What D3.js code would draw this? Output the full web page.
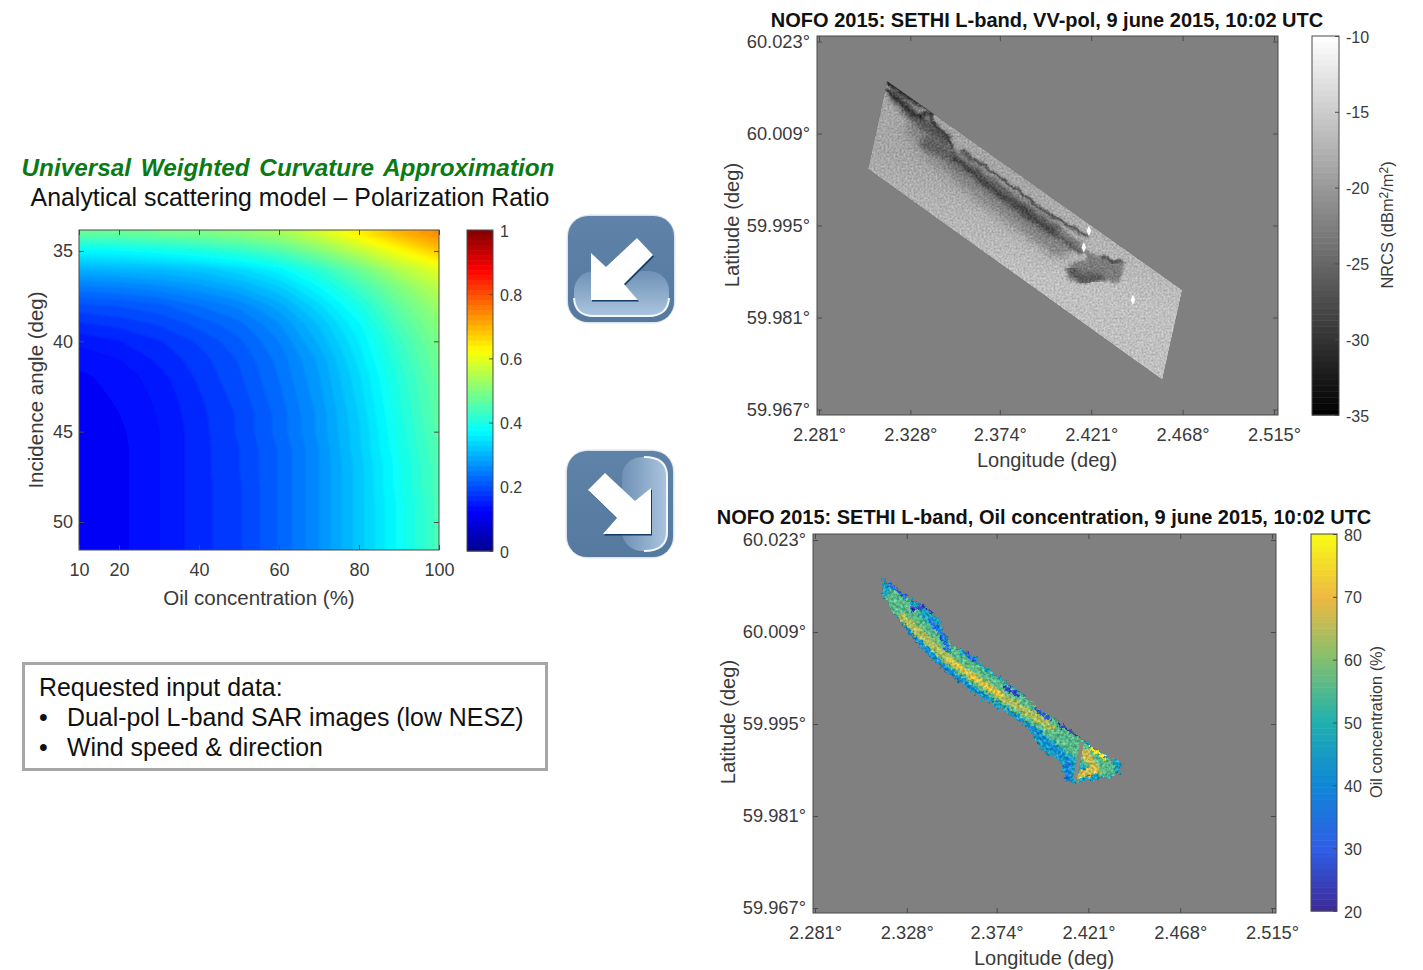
<!DOCTYPE html>
<html><head><meta charset="utf-8">
<script src="https://cdnjs.cloudflare.com/ajax/libs/d3/7.8.5/d3.min.js"></script>
<style>
html,body{margin:0;padding:0;background:#fff;overflow:hidden}
svg{display:block}
text{font-family:"Liberation Sans",Arial,sans-serif}
.tick text{fill:#3a3a3a}
.lab{fill:#3a3a3a}
</style></head><body><svg id="c" width="1423" height="970"></svg>
<script>
// ---------- data ----------
const heatConc=[10,20,30,40,50,60,70,80,90,100];
const heatAngle=[34,35,36,37,38,39,40,41,42,43,44,45,46,47,48,49,50,51,52];
const heatRows=[
[.47,.475,.485,.495,.51,.535,.58,.64,.70,.74],
[.37,.375,.385,.40,.42,.45,.50,.56,.62,.68],
[.30,.305,.31,.32,.34,.37,.42,.48,.55,.60],
[.245,.25,.26,.275,.295,.325,.375,.435,.50,.56],
[.20,.205,.215,.235,.255,.29,.34,.40,.47,.53],
[.17,.178,.19,.21,.23,.265,.315,.375,.45,.51],
[.145,.155,.17,.19,.215,.25,.30,.36,.43,.495],
[.13,.14,.16,.18,.205,.24,.285,.35,.42,.485],
[.122,.13,.15,.175,.20,.235,.28,.34,.41,.475],
[.12,.127,.145,.17,.195,.23,.275,.335,.405,.47],
[.12,.125,.142,.167,.19,.225,.27,.33,.40,.465],
[.12,.122,.14,.165,.19,.225,.27,.325,.395,.46],
[.12,.12,.14,.165,.187,.22,.265,.325,.39,.455],
[.12,.12,.14,.165,.187,.22,.265,.32,.385,.45],
[.12,.12,.14,.165,.185,.22,.265,.32,.385,.45],
[.12,.12,.14,.165,.185,.22,.265,.32,.38,.445],
[.12,.12,.14,.165,.185,.22,.265,.32,.38,.445],
[.12,.12,.14,.165,.185,.22,.265,.32,.38,.445],
[.12,.12,.14,.165,.185,.22,.265,.32,.38,.445]];
const heatXTicks=[10,20,40,60,80,100];
const heatYTicks=[35,40,45,50];
const heatCbTicks=[0,.2,.4,.6,.8,1];
const lonTicks=[2.281,2.328,2.374,2.421,2.468,2.515];
const latTicks=[59.967,59.981,59.995,60.009,60.023];
const nrcsTicks=[-35,-30,-25,-20,-15,-10];
const oilTicks=[20,30,40,50,60,70,80];
// SAR swath corners (lon,lat)
const swath=[[2.3160,60.0170],[2.3062,60.0036],[2.4576,59.9715],[2.4679,59.9852]];
// slick structure in the VV image: [lon,lat] with grey level, stroke and softness
const slickHalo=[[2.3314,60.0098],[2.3432,60.0060],[2.3653,60.0004],[2.3879,59.9954],[2.4049,59.9917]];
const slickLines=[
 {s:"#555555",w:13,f:"b3",p:[[2.3201,60.0149],[2.3303,60.0118],[2.3458,60.0080]]},
 {s:"#5e5e5e",w:13,f:"b3",p:[[2.3365,60.0076],[2.3499,60.0054],[2.3602,60.0033],[2.3725,60.0004],[2.3843,59.9978],[2.4013,59.9943]]},
 {s:"#2a2a2a",w:5,f:"b05",p:[[2.3165,60.0168],[2.3263,60.0148],[2.3396,60.0123]]},
 {s:"#303030",w:4,f:"b05",p:[[2.3160,60.0156],[2.3267,60.0126],[2.3345,60.0114]]},
 {s:"#333333",w:3,f:"b05",p:[[2.3288,60.0118],[2.3381,60.0121],[2.3396,60.0106],[2.3468,60.0085],[2.3499,60.0068]]},
 {s:"#3c3c3c",w:4,f:"b1",p:[[2.3499,60.0054],[2.3602,60.0030],[2.3725,60.0001],[2.3843,59.9978],[2.4013,59.9939]]},
 {s:"#383838",w:2.4,f:"b05",p:[[2.3550,60.0062],[2.3653,60.0042],[2.3807,60.0009],[2.3982,59.9969],[2.4188,59.9933]]},
 {s:"#505050",w:2.2,f:"b05",p:[[2.3776,59.9989],[2.3910,59.9958],[2.4152,59.9910]]},
 {s:"#585858",w:10,f:"b3",p:[[2.4100,59.9882],[2.4177,59.9867],[2.4254,59.9870]]},
 {s:"#444444",w:3,f:"b05",p:[[2.4270,59.9902],[2.4321,59.9893],[2.4373,59.9895]]}];
const slickTail=[[2.3725,60.0004],[2.3879,59.9974],[2.4013,59.9943],[2.4167,59.9913]];
const slickBlob=[[2.4167,59.9917],[2.4290,59.9898],[2.4373,59.9895],[2.4373,59.9878],[2.4342,59.9864],[2.4254,59.9867],[2.4152,59.9861],[2.4100,59.9872],[2.4100,59.9893],[2.4188,59.9898]];
const shipSpots=[[2.4198,59.9942],[2.4172,59.9917],[2.4424,59.9837]];
// oil mask outline and streaks: [lon,lat] and concentration
const oilOutline=[[2.3158,60.0172],[2.3261,60.0149],[2.3399,60.0124],[2.3450,60.0104],[2.3517,60.0067],[2.3619,60.0055],[2.3721,60.0028],[2.3860,59.9999],[2.3962,59.9972],[2.4064,59.9952],[2.4167,59.9930],[2.4233,59.9915],[2.4320,59.9898],[2.4382,59.9892],[2.4372,59.9875],[2.4305,59.9868],[2.4151,59.9860],[2.4090,59.9865],[2.4064,59.9895],[2.3972,59.9909],[2.3895,59.9946],[2.3773,59.9970],[2.3639,59.9993],[2.3537,60.0016],[2.3440,60.0041],[2.3348,60.0067],[2.3281,60.0092],[2.3209,60.0122],[2.3153,60.0149]];
const oilBase=46;
const oilStreaks=[
 {v:42,w:7,p:[[2.3209,60.0120],[2.3322,60.0078],[2.3476,60.0035],[2.3629,60.0005],[2.3783,59.9982],[2.3962,59.9933],[2.4064,59.9903]]},
 {v:56,w:19,p:[[2.3220,60.0139],[2.3373,60.0090],[2.3527,60.0047],[2.3680,60.0014],[2.3860,59.9979],[2.4039,59.9941],[2.4192,59.9903],[2.4295,59.9883]]},
 {v:64,w:8,p:[[2.3261,60.0113],[2.3383,60.0078],[2.3501,60.0047],[2.3619,60.0022],[2.3757,59.9994],[2.3895,59.9968],[2.4013,59.9946]]},
 {v:72,w:3,p:[[2.3501,60.0047],[2.3619,60.0022],[2.3757,59.9994]]},
 {v:47,w:2.5,p:[[2.3348,60.0116],[2.3552,60.0063],[2.3757,60.0020],[2.3962,59.9979],[2.4116,59.9946]]},
 {v:67,w:8,p:[[2.4192,59.9907],[2.4244,59.9880],[2.4167,59.9872]]},
 {v:76,w:3.5,p:[[2.4218,59.9914],[2.4295,59.9898]]},
 {v:32,w:3,p:[[2.3174,60.0169],[2.3271,60.0143]]},
 {v:24,w:3.5,p:[[2.3307,60.0124],[2.3373,60.0130],[2.3399,60.0121]]},
 {v:34,w:4,p:[[2.3399,60.0108],[2.3460,60.0085],[2.3491,60.0063]]},
 {v:30,w:3,p:[[2.3578,60.0058],[2.3629,60.0047]]},
 {v:26,w:4,p:[[2.3783,60.0005],[2.3849,59.9994]]},
 {v:28,w:3.5,p:[[2.3936,59.9972],[2.4003,59.9959]]},
 {v:24,w:5,p:[[2.4064,59.9949],[2.4167,59.9933]]},
 {v:38,w:6,p:[[2.4100,59.9895],[2.4105,59.9865]]}];
const oilGap=[[2.4177,59.9923],[2.4141,59.9865]];

// ---------- helpers ----------
const svg=d3.select("#c");
const defs=svg.append("defs");
const jet=d3.scaleLinear().domain([0,.11,.125,.375,.625,.875,1]).range(["#00008f","#0000f0","#0000ff","#00ffff","#ffff00","#ff0000","#800000"]).clamp(true);
const grey=d3.scaleLinear().domain([-35,-10]).range(["#000","#fff"]);
const parula=d3.scaleLinear().domain([20,30,40,50,60,70,80]).range(["#3d2a96","#2f5ee6","#0f86d6","#1fb0b0","#82bf6e","#eeb942","#f9fb15"]);
const tickCol="#4a4a4a";
function style(a,fs){a.select(".domain").remove();a.selectAll("line").attr("stroke",tickCol);if(fs)a.selectAll("text").attr("font-size",fs);return a;}
function boxAxes(g,x,y,box,xt,yt,xfmt,yfmt,fs,xpad,ypad){
  const {l,t,r,b}=box;
  style(g.append("g").attr("transform",`translate(0,${b})`).call(d3.axisBottom(x).tickValues(xt).tickSizeInner(-5).tickSizeOuter(0).tickPadding(xpad).tickFormat(xfmt)),fs);
  style(g.append("g").attr("transform",`translate(${l},0)`).call(d3.axisLeft(y).tickValues(yt).tickSizeInner(-5).tickSizeOuter(0).tickPadding(ypad).tickFormat(yfmt)),fs);
  style(g.append("g").attr("transform",`translate(0,${t})`).call(d3.axisTop(x).tickValues(xt).tickSizeInner(-5).tickSizeOuter(0).tickFormat("")));
  style(g.append("g").attr("transform",`translate(${r},0)`).call(d3.axisRight(y).tickValues(yt).tickSizeInner(-5).tickSizeOuter(0).tickFormat("")));
  g.append("rect").attr("x",l).attr("y",t).attr("width",r-l).attr("height",b-t).attr("fill","none").attr("stroke",tickCol);
}
function vlabel(x,y,t,fs){return svg.append("text").attr("class","lab").attr("transform",`translate(${x},${y}) rotate(-90)`).attr("text-anchor","middle").attr("font-size",fs).text(t);}
function hlabel(x,y,t,fs){return svg.append("text").attr("class","lab").attr("x",x).attr("y",y).attr("text-anchor","middle").attr("font-size",fs).text(t);}
function colorbar(x0,x1,y0,y1,dom,color,tvals,fmt,n,fs){
  const y=d3.scaleLinear().domain(dom).range([y1,y0]);
  const g=svg.append("g");
  const lv=d3.range(n).map(i=>dom[0]+(dom[1]-dom[0])*i/n);
  const st=(dom[1]-dom[0])/n;
  g.selectAll("rect").data(lv).join("rect").attr("x",x0).attr("width",x1-x0)
   .attr("y",d=>y(d+st)).attr("height",d=>y(d)-y(d+st)+.5).attr("fill",d=>color(d+st/2));
  g.append("rect").attr("x",x0).attr("y",y0).attr("width",x1-x0).attr("height",y1-y0).attr("fill","none").attr("stroke",tickCol);
  style(g.append("g").attr("transform",`translate(${x1},0)`).call(d3.axisRight(y).tickValues(tvals).tickSizeInner(-4).tickSizeOuter(0).tickPadding(7).tickFormat(fmt)),fs);
  g.selectAll(".tick text").attr("dy",".38em");
}
// filters
["b05","b1","b3","b7"].forEach((id,i)=>defs.append("filter").attr("id",id).attr("x","-20%").attr("y","-20%").attr("width","140%").attr("height","140%").append("feGaussianBlur").attr("stdDeviation",[.9,1.4,2.4,5.5][i]));
const fs=defs.append("filter").attr("id","speckle").attr("x",0).attr("y",0).attr("width",1).attr("height",1).attr("color-interpolation-filters","sRGB");
fs.append("feTurbulence").attr("type","fractalNoise").attr("baseFrequency",.5).attr("numOctaves",2).attr("seed",4).attr("result","n");
fs.append("feColorMatrix").attr("in","n").attr("type","matrix").attr("values","1 0 0 0 0 1 0 0 0 0 1 0 0 0 0 0 0 0 0 1").attr("result","g");
fs.append("feComposite").attr("in","SourceGraphic").attr("in2","g").attr("operator","arithmetic").attr("k1",0).attr("k2",1).attr("k3",.3).attr("k4",-.15).attr("result","m");
fs.append("feGaussianBlur").attr("in","m").attr("stdDeviation",.6);
const fd=defs.append("filter").attr("id","wobble").attr("x","-5%").attr("y","-5%").attr("width","110%").attr("height","110%").attr("color-interpolation-filters","sRGB");
fd.append("feTurbulence").attr("type","fractalNoise").attr("baseFrequency",.09).attr("numOctaves",3).attr("seed",7).attr("result","n");
fd.append("feDisplacementMap").attr("in","SourceGraphic").attr("in2","n").attr("scale",6).attr("xChannelSelector","R").attr("yChannelSelector","G");
const fr=defs.append("filter").attr("id","rough").attr("x","-5%").attr("y","-5%").attr("width","110%").attr("height","110%").attr("color-interpolation-filters","sRGB");
fr.append("feTurbulence").attr("type","fractalNoise").attr("baseFrequency",.3).attr("numOctaves",3).attr("seed",9).attr("result","n");
fr.append("feDisplacementMap").attr("in","SourceGraphic").attr("in2","n").attr("scale",9).attr("xChannelSelector","R").attr("yChannelSelector","G").attr("result","d");
fr.append("feGaussianBlur").attr("in","d").attr("stdDeviation",.6).attr("result","b");
fr.append("feTurbulence").attr("type","fractalNoise").attr("baseFrequency",.35).attr("numOctaves",2).attr("seed",21).attr("result","n2");
fr.append("feColorMatrix").attr("in","n2").attr("type","matrix").attr("values","1 0 0 0 0 1 0 0 0 0 1 0 0 0 0 0 0 0 0 1").attr("result","g2");
fr.append("feComposite").attr("in","b").attr("in2","g2").attr("operator","arithmetic").attr("k1",0).attr("k2",1).attr("k3",.5).attr("k4",-.25).attr("result","m2");
fr.append("feComposite").attr("in","m2").attr("in2","b").attr("operator","in");

// ---------- heat map panel ----------
const hx=d3.scaleLinear().domain([10,100]).range([79,439]);
const hy=d3.scaleLinear().domain([35,50]).range([251,522]);
const hBox={l:79,t:230,r:439,b:550};
defs.append("clipPath").attr("id","hclip").append("rect").attr("x",hBox.l).attr("y",hBox.t).attr("width",hBox.r-hBox.l).attr("height",hBox.b-hBox.t);
const conts=d3.contours().size([heatConc.length,heatAngle.length]).thresholds(d3.range(0,64).map(k=>k/64))(heatRows.flat());
const hPath=d3.geoPath(d3.geoTransform({point(gx,gy){
  this.stream.point(hx(heatConc[0]+(gx-.5)*(heatConc[1]-heatConc[0])),hy(heatAngle[0]+(gy-.5)*(heatAngle[1]-heatAngle[0])));}}));
const hg=svg.append("g").attr("clip-path","url(#hclip)").append("g").attr("filter","url(#b05)");
hg.selectAll("path").data(conts).join("path").attr("d",hPath).attr("fill",d=>jet(d.value+.5/64)).attr("stroke",d=>jet(d.value+.5/64)).attr("stroke-width",.3);
boxAxes(svg.append("g"),hx,hy,hBox,heatXTicks,heatYTicks,d=>d,d=>d,18,13,6);
hlabel(259,605,"Oil concentration (%)",20.5);
vlabel(43,390,"Incidence angle (deg)",20.5);
colorbar(467,493,230,551,[0,1],jet,heatCbTicks,d=>d,64,16);

// titles on the left
svg.append("text").attr("x",288).attr("y",176).attr("text-anchor","middle").attr("font-size",24.3).attr("font-weight","bold").attr("font-style","italic").attr("fill","#0b7a14").attr("word-spacing",3).text("Universal Weighted Curvature Approximation");
svg.append("text").attr("x",290).attr("y",206).attr("text-anchor","middle").attr("font-size",24.9).attr("fill","#111").text("Analytical scattering model – Polarization Ratio");

// text box
svg.append("rect").attr("x",23.5).attr("y",663.5).attr("width",523).attr("height",106).attr("fill","#fff").attr("stroke","#a6a6a6").attr("stroke-width",3);
const boxT=svg.append("g").attr("font-size",24.9).attr("fill","#111");
boxT.append("text").attr("x",39).attr("y",696).text("Requested input data:");
boxT.append("text").attr("x",39).attr("y",726).text("•");
boxT.append("text").attr("x",67).attr("y",726).text("Dual-pol L-band SAR images (low NESZ)");
boxT.append("text").attr("x",39).attr("y",756).text("•");
boxT.append("text").attr("x",67).attr("y",756).text("Wind speed & direction");

// arrow buttons
const gBtn=defs.append("linearGradient").attr("id","btn").attr("x1",0).attr("x2",0).attr("y1",0).attr("y2",1);
gBtn.append("stop").attr("offset",0).attr("stop-color","#5f83a8");gBtn.append("stop").attr("offset",1).attr("stop-color","#55799f");
const gG1=defs.append("linearGradient").attr("id","gl1").attr("x1",0).attr("x2",0).attr("y1",0).attr("y2",1);
gG1.append("stop").attr("offset",0).attr("stop-color","#6f91b5");gG1.append("stop").attr("offset",1).attr("stop-color","#acc6e0");
const gG2=defs.append("linearGradient").attr("id","gl2").attr("x1",0).attr("x2",1).attr("y1",0).attr("y2",0);
gG2.append("stop").attr("offset",0).attr("stop-color","#6f91b5");gG2.append("stop").attr("offset",1).attr("stop-color","#acc6e0");
function button(x,y,glass,arrow,inner){
  const g=svg.append("g");
  g.append("rect").attr("x",x-1.5).attr("y",y-1.5).attr("width",109).attr("height",109).attr("rx",23).attr("fill","#dde3ea");
  g.append("rect").attr("x",x).attr("y",y).attr("width",106).attr("height",106).attr("rx",20).attr("fill","url(#btn)");
  g.append("rect").attr("x",glass[0]).attr("y",glass[1]).attr("width",glass[2]).attr("height",glass[3]).attr("rx",20).attr("fill",`url(#${glass[4]})`);
  g.append("path").attr("d",inner).attr("fill","none").attr("stroke","#f2f7fc").attr("stroke-width",2);
  g.append("polygon").attr("points",arrow.map(p=>p.join(",")).join(" ")).attr("fill","#123a66").attr("transform","translate(1,1.5)");
  g.append("polygon").attr("points",arrow.map(p=>p.join(",")).join(" ")).attr("fill","#fff");
}
button(568,216,[574,271,95,46,"gl1"],[[637,238],[653,255],[624,284],[638,300],[591,300],[591,253],[606,267]],"M574,298 Q575,316 594,316 L648,316 Q668,316 669,298");
button(567,451,[622,457,46,94,"gl2"],[[605,473],[588,490],[617,518],[603,534],[651,534],[651,488],[635,501]],"M644,457 Q667,457 667,476 L667,532 Q667,551 644,551");

// ---------- image panels ----------
function panel(o){
  const lon=d3.scaleLinear().domain([lonTicks[0],lonTicks[5]]).range(o.lonR);
  const lat=d3.scaleLinear().domain([latTicks[0],latTicks[4]]).range(o.latR);
  const line=d3.line().x(d=>lon(d[0])).y(d=>lat(d[1]));
  svg.append("rect").attr("x",o.box.l).attr("y",o.box.t).attr("width",o.box.r-o.box.l).attr("height",o.box.b-o.box.t).attr("fill","#808080");
  o.draw(svg.append("g"),lon,lat,line);
  const fmt=d=>d.toFixed(3)+"°";
  boxAxes(svg.append("g"),lon,lat,o.box,lonTicks,latTicks,fmt,fmt,18.3,13,7);
  hlabel(o.cx,o.titleY,o.title,20).attr("font-weight","bold").attr("class",null).attr("fill","#111");
  hlabel(o.cx,o.xlabY,"Longitude (deg)",20);
  vlabel(o.ylabX,o.ylabY,"Latitude (deg)",20.2);
}

panel({box:{l:817,t:36,r:1278,b:415},lonR:[819,1274],latR:[409.5,41.5],cx:1047,titleY:27,xlabY:467,ylabX:739,ylabY:225,
 title:"NOFO 2015: SETHI L-band, VV-pol, 9 june 2015, 10:02 UTC",
 draw(g,lon,lat,line){
  const poly=d3.line().x(d=>lon(d[0])).y(d=>lat(d[1])).curve(d3.curveLinearClosed);
  const mid=(a,b)=>[(lon(a[0])+lon(b[0]))/2,(lat(a[1])+lat(b[1]))/2];
  const m1=mid(swath[0],swath[3]),m2=mid(swath[1],swath[2]);
  const gr=defs.append("linearGradient").attr("id","swg").attr("gradientUnits","userSpaceOnUse").attr("x1",m1[0]).attr("y1",m1[1]).attr("x2",m2[0]).attr("y2",m2[1]);
  gr.append("stop").attr("offset",0).attr("stop-color","#a6a6a6");gr.append("stop").attr("offset",.5).attr("stop-color","#b4b4b4");gr.append("stop").attr("offset",1).attr("stop-color","#c0c0c0");
  defs.append("clipPath").attr("id","swc").append("path").attr("d",poly(swath));
  const c=g.append("g").attr("clip-path","url(#swc)");
  const f=c.append("g").attr("filter","url(#speckle)");
  f.append("path").attr("d",poly(swath)).attr("fill","url(#swg)");
  const s=f.append("g").attr("filter","url(#wobble)");
  s.append("path").attr("d",line(slickHalo)).attr("fill","none").attr("stroke","#828282").attr("stroke-width",22).attr("stroke-linecap","round").attr("filter","url(#b7)");
  s.append("path").attr("d",line(slickTail)).attr("fill","none").attr("stroke","#767676").attr("stroke-width",11).attr("filter","url(#b3)");
  s.append("path").attr("d",poly(slickBlob)).attr("fill","#7c7c7c").attr("filter","url(#b1)");
  s.selectAll(".ln").data(slickLines).join("path").attr("class","ln").attr("d",d=>line(d.p)).attr("fill","none")
   .attr("stroke",d=>d.s).attr("stroke-width",d=>d.w).attr("stroke-linecap","round").attr("filter",d=>`url(#${d.f})`);
  g.selectAll(".spot").data(shipSpots).join("path").attr("class","spot")
   .attr("transform",d=>`translate(${lon(d[0])},${lat(d[1])}) scale(.8,1.1)`)
   .attr("d",d3.symbol(d3.symbolDiamond,26)).attr("fill","#fff");
 }});
colorbar(1312,1339,36,415,[-35,-10],grey,nrcsTicks,d=>d,64,16);
{const t=svg.append("text").attr("class","lab").attr("transform","translate(1393,225) rotate(-90)").attr("text-anchor","middle").attr("font-size",16.4);
 t.append("tspan").text("NRCS (dBm");t.append("tspan").attr("dy",-5).attr("font-size",12).text("2");
 t.append("tspan").attr("dy",5).text("/m");t.append("tspan").attr("dy",-5).attr("font-size",12).text("2");t.append("tspan").attr("dy",5).text(")");}

panel({box:{l:813,t:534,r:1276,b:913},lonR:[815,1272],latR:[908,540],cx:1044,titleY:524,xlabY:965,ylabX:735,ylabY:722,
 title:"NOFO 2015: SETHI L-band, Oil concentration, 9 june 2015, 10:02 UTC",
 draw(g,lon,lat,line){
  const poly=d3.line().x(d=>lon(d[0])).y(d=>lat(d[1])).curve(d3.curveLinearClosed);
  defs.append("clipPath").attr("id","oilc").append("path").attr("d",poly(oilOutline));
  const f=g.append("g").attr("filter","url(#rough)");
  const c=f.append("g").attr("clip-path","url(#oilc)");
  c.append("path").attr("d",poly(oilOutline)).attr("fill",parula(oilBase));
  c.selectAll(".st").data(oilStreaks).join("path").attr("class","st").attr("d",d=>line(d.p)).attr("fill","none")
   .attr("stroke",d=>parula(d.v)).attr("stroke-width",d=>d.w).attr("stroke-linecap","round");
  g.append("path").attr("d",line(oilGap)).attr("stroke","#8a8a80").attr("stroke-width",4).attr("fill","none");
 }});
colorbar(1311,1337,534,911,[20,80],parula,oilTicks,d=>d,64,16);
vlabel(1382,722,"Oil concentration (%)",16.3);
</script></body></html>
